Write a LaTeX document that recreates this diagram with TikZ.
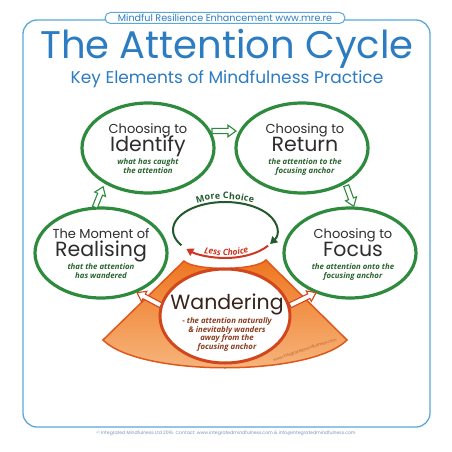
\documentclass[tikz,border=0pt]{standalone}
\usepackage{fontspec}
\setmainfont{Poppins}
\newfontfamily\itf{Open Sans}
\usetikzlibrary{shapes.geometric,decorations.text,calc,arrows.meta}
\definecolor{cblue}{RGB}{44,124,193}
\definecolor{cframe}{RGB}{90,168,216}
\definecolor{cgreen}{RGB}{46,139,62}
\definecolor{ctext}{RGB}{45,45,45}
\definecolor{citg}{RGB}{40,100,45}
\definecolor{cring}{RGB}{35,90,45}
\definecolor{cred}{RGB}{205,55,35}
\definecolor{corA}{RGB}{238,118,32}
\definecolor{corB}{RGB}{247,185,130}
\definecolor{corline}{RGB}{222,88,30}
\definecolor{cwand}{RGB}{210,70,30}
\definecolor{cwtitle}{RGB}{55,35,25}
\definecolor{cwit}{RGB}{140,60,30}
\definecolor{cfoot}{RGB}{120,150,190}
\definecolor{cwm}{RGB}{190,95,45}
\newcommand\hollowarrow[5]{%
  \begin{scope}[shift={(#1,#2)},rotate=#3]
    \draw[line width=1.1pt, draw=#5, fill=white, line join=miter]
      (-#4/2,-2.6) -- (#4/2-8,-2.6) -- (#4/2-8,-5.8) -- (#4/2,0) -- (#4/2-8,5.8) -- (#4/2-8,2.6) -- (-#4/2,2.6) -- cycle;
  \end{scope}}
\begin{document}
\begin{tikzpicture}[x=1pt,y=1pt,
  gell/.style={ellipse, draw=cgreen, line width=3.2pt, fill=white, minimum width=132pt, minimum height=90pt, inner sep=0pt},
  smalltxt/.style={font=\fontsize{13}{13}\selectfont, text=ctext, anchor=base, inner sep=0pt},
  bigtxt/.style={font=\fontsize{20.5}{20.5}\selectfont, text=ctext, anchor=base, inner sep=0pt},
  itl/.style={font=\itf\bfseries\itshape\fontsize{7.8}{7.8}\selectfont, text=citg, anchor=base, inner sep=0pt},
  witl/.style={font=\itf\bfseries\itshape\fontsize{7.8}{7.8}\selectfont, text=cwit, anchor=base, inner sep=0pt},
]
\useasboundingbox (0,0) rectangle (452,-452);
\fill[white] (0,0) rectangle (452,-452);
% frame
\draw[cframe, line width=1.3pt, rounded corners=14pt] (23,-20) rectangle (430,-427);
\node[draw=cframe, fill=white, rounded corners=5.5pt, minimum width=240pt, minimum height=11pt, line width=1pt, inner sep=0pt] (pill) at (225,-18) {};
\node[font=\fontsize{9.6}{9.6}\selectfont, text=cblue, inner sep=0pt] (pilltxt) at (pill.center) {Mindful Resilience Enhancement www.mre.re};
% titles
\node[font=\fontsize{38.5}{38.5}\selectfont, text=cblue, anchor=base, inner sep=0pt] (title) at (227,-59) {The Attention Cycle};
\node[font=\fontsize{17}{17}\selectfont, text=cblue, anchor=base, inner sep=0pt] (subtitle) at (227,-83) {Key Elements of Mindfulness Practice};
% orange fan
\draw[draw=corline, line width=1.5pt, top color=corA, bottom color=corB] (184,-261) -- (103,-340) .. controls (140,-377) and (310,-377) .. (347,-340) -- (266,-260) .. controls (256,-271) and (194,-271) .. cycle;
\node[rotate=18, font=\fontsize{4}{4}\selectfont, text=cwm, inner sep=0pt] (wm) at (305,-350) {www.integratedmindfulness.com};
% choice ring
\coordinate (ring) at (225,-230);
\draw[cring, line width=2pt, -{Triangle[length=7pt,width=8pt]}] ($(ring)+(213:52pt and 28pt)$) arc[start angle=213, end angle=-30, x radius=52pt, y radius=28pt];
\draw[cred, line width=2pt, -{Triangle[length=7pt,width=8pt]}] ($(ring)+(-34:52pt and 28pt)$) arc[start angle=-34, end angle=-138, x radius=52pt, y radius=28pt];
\path[decorate, decoration={text along path, text align=center, raise=3pt, text={|\itf\bfseries\fontsize{9}{9}\selectfont\color{cring}|More Choice}}] ($(ring)+(165:52pt and 28pt)$) arc[start angle=165, end angle=15, x radius=52pt, y radius=28pt];
\path[decorate, decoration={text along path, text align=center, raise=2.5pt, text={|\itf\bfseries\itshape\fontsize{8.6}{8.6}\selectfont\color{cred}|Less Choice}}] ($(ring)+(-150:52pt and 28pt)$) arc[start angle=-150, end angle=-25, x radius=52pt, y radius=28pt];
% green ellipses
\node[gell] (id) at (148,-148) {};
\node[gell] (ret) at (302,-148) {};
\node[gell] (real) at (101,-253) {};
\node[gell] (foc) at (350,-253) {};
% wandering
\node[ellipse, draw=cwand, line width=3pt, fill=white, minimum width=130pt, minimum height=94pt, inner sep=0pt] (wand) at (225,-316) {};
% texts
\node[smalltxt] (idA) at ($(id)+(0,15)$) {Choosing to};
\node[bigtxt] (idB) at ($(id)+(0,-3)$) {Identify};
\node[itl] (idC) at ($(id)+(0,-16.5)$) {what has caught};
\node[itl] (idD) at ($(id)+(0,-25.5)$) {the attention};
\node[smalltxt] (retA) at ($(ret)+(3,15)$) {Choosing to};
\node[bigtxt] (retB) at ($(ret)+(3,-3)$) {Return};
\node[itl] (retC) at ($(ret)+(3,-16.5)$) {the attention to the};
\node[itl] (retD) at ($(ret)+(3,-25.5)$) {focusing anchor};
\node[smalltxt] (realA) at ($(real)+(0,15)$) {The Moment of};
\node[bigtxt] (realB) at ($(real)+(0,-3)$) {Realising};
\node[itl] (realC) at ($(real)+(0,-16.5)$) {that the attention};
\node[itl] (realD) at ($(real)+(0,-25.5)$) {has wandered};
\node[smalltxt] (focA) at ($(foc)+(3,15)$) {Choosing to};
\node[bigtxt] (focB) at ($(foc)+(3,-3)$) {Focus};
\node[itl] (focC) at ($(foc)+(3,-16.5)$) {the attention onto the};
\node[itl] (focD) at ($(foc)+(3,-25.5)$) {focusing anchor};
\node[bigtxt, text=cwtitle] (wandA) at (227,-309.5) {Wandering};
\node[witl] (wandB) at (227,-323.5) {- the attention naturally};
\node[witl] (wandC) at (227,-332) {\& inevitably wanders};
\node[witl] (wandD) at (227,-340.5) {away from the};
\node[witl] (wandE) at (227,-349) {focusing anchor};
% hollow arrows
\hollowarrow{224}{-131}{0}{24}{cgreen}
\hollowarrow{350}{-196}{-70}{22}{cgreen}
\hollowarrow{99}{-197}{68}{22}{cgreen}
\hollowarrow{149}{-299}{152}{27}{cwand}
\hollowarrow{303}{-299}{26}{29}{cwand}
% footer
\node[font=\fontsize{4.6}{4.6}\selectfont, text=cfoot, inner sep=0pt] (foot) at (226,-433) {\textcopyright\ Integrated Mindfulness Ltd 2016. Contact: www.integratedmindfulness.com \& info@integratedmindfulness.com};
\end{tikzpicture}
\end{document}
